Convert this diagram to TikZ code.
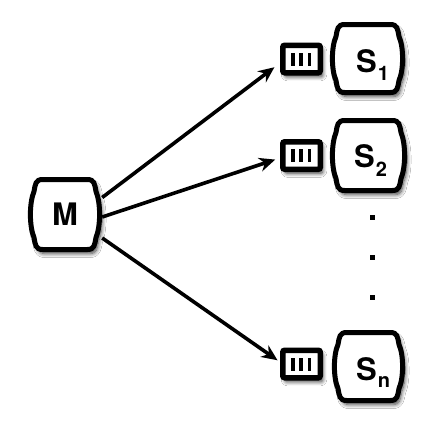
\documentclass[tikz,border=0pt]{standalone}
\usepackage{fontspec}
\setmainfont{TeX Gyre Heros}
\usetikzlibrary{arrows.meta,shadows.blur,calc}
\newcommand\barrelat[4]{%
 \begin{scope}[shift={(#1,#2)}]
 \draw[boxline] ({-#3+12},{-#4}) -- ({#3-12},{-#4})
   .. controls ({#3-5},{-#4}) and ({#3-4.8},{-#4+5}) .. ({#3-3.5},{-#4+12})
   .. controls ({#3+1.3},{-#4/3}) and ({#3+1.3},{#4/3}) .. ({#3-3.5},{#4-12})
   .. controls ({#3-4.8},{#4-5}) and ({#3-5},{#4}) .. ({#3-12},{#4})
   -- ({-#3+12},{#4})
   .. controls ({-#3+5},{#4}) and ({-#3+4.8},{#4-5}) .. ({-#3+3.5},{#4-12})
   .. controls ({-#3-1.3},{#4/3}) and ({-#3-1.3},{-#4/3}) .. ({-#3+3.5},{-#4+12})
   .. controls ({-#3+4.8},{-#4+5}) and ({-#3+5},{-#4}) .. cycle;
 \end{scope}}
\newcommand\subs[2]{\kern1pt\raisebox{-#1pt}{\fontsize{20}{20}\selectfont #2}}
\begin{document}
\begin{tikzpicture}[x=1pt,y=-1pt,
 shad/.style={blur shadow={shadow xshift=2.5pt,shadow yshift=-4pt,shadow blur radius=4pt,shadow blur steps=8,shadow opacity=75}},
 boxline/.style={line width=5pt, fill=white, draw=black, shad},
 area/.style={inner sep=0pt, minimum width=74pt, minimum height=74pt},
 queue/.style={draw=black, line width=5.5pt, fill=white, rounded corners=2pt, minimum width=37.5pt, minimum height=27.5pt, inner sep=0pt, shad},
 bar/.style={fill=black, minimum width=3.5pt, minimum height=13pt, inner sep=0pt},
 lbl/.style={inner sep=0pt, anchor=base west, font=\fontsize{31}{31}\selectfont\bfseries},
 mlbl/.style={inner sep=0pt, font=\fontsize{31}{31}\selectfont\bfseries},
 arr/.style={line width=3.6pt, -{Stealth[length=16pt,width=14pt]}},
 dotsq/.style={fill=black, minimum size=5pt, inner sep=0pt}]
\fill[white] (0,0) rectangle (432,437);
\useasboundingbox (0,0) rectangle (432,437);
% box outlines
\barrelat{65}{214.5}{34.5}{35}
\barrelat{367.5}{58.5}{35}{34}
\barrelat{368.5}{155.5}{36}{35}
\barrelat{368.5}{366.5}{34}{34}
% named areas
\node[area] (m) at (65,214.5) {};
\node[area] (s1) at (367.5,58.5) {};
\node[area] (s2) at (368.5,155.5) {};
\node[area] (sn) at (368.5,366.5) {};
% labels
\node[mlbl] (lm) at (m.center) {M};
\node[lbl] (l1) at (356,72) {S\subs{8}{1}};
\node[lbl] (l2) at (354,167) {S\subs{9}{2}};
\node[lbl] (ln) at (356,380) {S\subs{7}{n}};
% queues
\node[queue] (q1) at (301.5,59) {};
\node[queue] (q2) at (301.5,155.5) {};
\node[queue] (qn) at (301.5,364) {};
\foreach \q in {q1,q2,qn}{
  \node[bar] (\q a) at ([xshift=-8.5pt]\q.center) {};
  \node[bar] (\q b) at ([xshift=-0.5pt]\q.center) {};
  \node[bar] (\q c) at ([xshift=8pt]\q.center) {};
}
% dots
\node[dotsq] (d1) at (372,217) {};
\node[dotsq] (d2) at (372,257) {};
\node[dotsq] (d3) at (372,297) {};
% arrows
\draw[arr, shorten >=7pt] ([yshift=17pt]m.east) -- ([yshift=-4pt]q1.west);
\draw[arr, shorten >=5pt] ([yshift=-2.5pt]m.east) -- ([yshift=-2.5pt]q2.west);
\draw[arr, shorten >=3pt] ([yshift=-23.5pt]m.east) -- ([yshift=2pt]qn.west);
\end{tikzpicture}
\end{document}
